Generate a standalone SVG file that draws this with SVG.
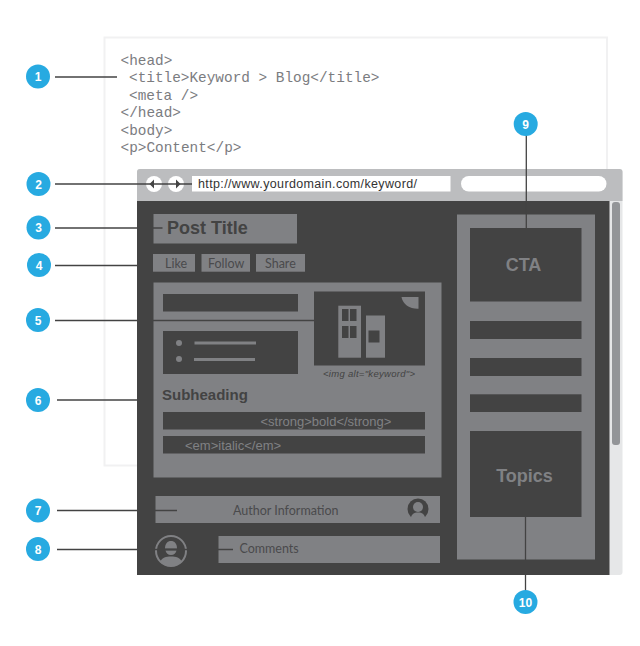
<svg xmlns="http://www.w3.org/2000/svg" width="640" height="646" viewBox="0 0 640 646">
<style>
.d{fill:#434343}.g{fill:#808184}
.badge circle{fill:#27aae1}
.badge text{fill:#fff;font:bold 12px "Liberation Sans",Arial,sans-serif;text-anchor:middle}
.code{fill:#7b7c7f;font:14.4px "Liberation Mono","Courier New",monospace}
.sans{font-family:Lato,"Open Sans",sans-serif;font-size:12.5px;fill:#4a4a4c}
.lib{font-family:"Liberation Sans",Arial,sans-serif}
.tag{font:13px "Liberation Sans",Arial,sans-serif;fill:#808184}
#connectors line{stroke:#434343;stroke-width:1.3;fill:none}
</style>
<rect width="640" height="646" fill="#fff"/>
<g id="code-doc">
<rect x="104.500" y="37.500" width="502.500" height="428" fill="#fff" stroke="#f1f1f2" stroke-width="2"/>
<text class="code" x="120.500" y="65">&lt;head&gt;</text>
<text class="code" x="129" y="82.400">&lt;title&gt;Keyword &gt; Blog&lt;/title&gt;</text>
<text class="code" x="129" y="100">&lt;meta /&gt;</text>
<text class="code" x="120.500" y="117">&lt;/head&gt;</text>
<text class="code" x="120.500" y="134.500">&lt;body&gt;</text>
<text class="code" x="120.500" y="152">&lt;p&gt;Content&lt;/p&gt;</text>
</g>
<g id="browser">
<path d="M137 575V172a3 3 0 0 1 3-3H619.500a3 3 0 0 1 3 3V572a3 3 0 0 1-3 3Z" fill="#e6e7e8"/>
<path d="M137 201V172a3 3 0 0 1 3-3H619.500a3 3 0 0 1 3 3V201Z" fill="#bcbdbf"/>
<rect class="d" x="137" y="201" width="472.500" height="374"/>
<rect x="612" y="202" width="8" height="243" rx="3" fill="#939598"/>
<circle cx="154" cy="184" r="8" fill="#fff"/>
<circle cx="176" cy="184" r="8" fill="#fff"/>
<path d="M149.500 184l4.500-4.500v9Z" fill="#434343"/>
<path d="M180.500 184l-4.500-4.500v9Z" fill="#434343"/>
<rect x="192" y="176" width="258.500" height="15.500" fill="#fff"/>
<text class="lib" x="198" y="188" font-size="12.500" fill="#333" textLength="219">http://www.yourdomain.com/keyword/</text>
<rect x="461" y="176" width="145.500" height="15.500" rx="7.750" fill="#fff"/>
</g>
<g id="post-title">
<rect class="g" x="153.500" y="214" width="143.500" height="29.500"/>
<text class="lib" x="167" y="234" font-size="18" font-weight="bold" fill="#434343">Post Title</text>
</g>
<g id="social-buttons">
<rect class="g" x="153" y="254" width="42" height="17.700"/>
<rect class="g" x="201.500" y="254" width="48.500" height="17.700"/>
<rect class="g" x="256" y="254" width="49" height="17.700"/>
<text class="sans" x="165" y="268">Like</text>
<text class="sans" x="208" y="268">Follow</text>
<text class="sans" x="265" y="268">Share</text>
</g>
<g id="content">
<rect class="g" x="153.500" y="282.500" width="288" height="195"/>
<rect class="d" x="163" y="294" width="135" height="17.500"/>
<rect class="d" x="163" y="331" width="135" height="43"/>
<circle class="g" cx="179" cy="343" r="3"/>
<circle class="g" cx="179" cy="359" r="3"/>
<rect class="g" x="194.500" y="341.500" width="61.500" height="3"/>
<rect class="g" x="194" y="358" width="61" height="3"/>
<text class="lib" x="162" y="400" font-size="15" font-weight="bold" fill="#434343">Subheading</text>
<rect class="d" x="163" y="412" width="262" height="17.500"/>
<rect class="d" x="163" y="436" width="262" height="17.500"/>
<text class="tag" x="260.500" y="426">&lt;strong&gt;bold&lt;/strong&gt;</text>
<text class="tag" x="185" y="450">&lt;em&gt;italic&lt;/em&gt;</text>
</g>
<g id="image">
<rect class="d" x="314" y="291.500" width="111" height="74"/>
<rect class="g" x="338.300" y="305.700" width="22.700" height="52"/>
<rect class="d" x="342" y="309" width="6.500" height="12"/>
<rect class="d" x="350" y="309" width="6.500" height="12"/>
<rect class="d" x="342" y="326" width="6.500" height="12"/>
<rect class="d" x="350" y="326" width="6.500" height="12"/>
<rect class="g" x="366" y="315.500" width="19" height="42.200"/>
<rect class="d" x="368.500" y="330.500" width="11" height="12"/>
<path class="g" d="M401.500 297H418.500V308.700C410 309 403 305 401.500 297Z"/>
<text class="lib" x="323" y="377" font-size="9.500" font-style="italic" fill="#434343" textLength="92">&lt;img alt="keyword"&gt;</text>
</g>
<g id="sidebar">
<rect class="g" x="457" y="214.500" width="138" height="345"/>
<rect class="d" x="470" y="228" width="111.500" height="73.500"/>
<rect class="d" x="470" y="321" width="111.500" height="18"/>
<rect class="d" x="470" y="358" width="111.500" height="18"/>
<rect class="d" x="470" y="394.300" width="111.500" height="17.700"/>
<rect class="d" x="470" y="431" width="111.500" height="86"/>
<text class="lib" x="523.500" y="271" font-size="18" font-weight="bold" fill="#808184" text-anchor="middle">CTA</text>
<text class="lib" x="524.500" y="482" font-size="18" font-weight="bold" fill="#808184" text-anchor="middle">Topics</text>
</g>
<g id="author">
<rect class="g" x="155.500" y="496" width="284.500" height="27"/>
<text class="sans" x="233" y="514.500">Author Information</text>
<circle class="d" cx="418" cy="509" r="10.500"/>
<circle class="g" cx="418" cy="507" r="5"/>
<path class="g" d="M410.500 520C411 514 414 512.500 418 512.500S425 514 425.500 520Z"/>
</g>
<g id="comments">
<circle cx="171" cy="551" r="15" fill="none" stroke="#808184" stroke-width="2"/>
<path class="g" d="M165 548.500C165 543.500 167.500 541 171 541S177 543.500 177 548.500Z"/>
<path class="g" d="M165.500 550.500H176.500C176 553 174 555 171 555S166 553 165.500 550.500Z"/>
<path class="g" d="M160 562C162 557.500 166 556.500 171 556.500S180 557.500 182 562C179 564.500 175 566 171 566S163 564.500 160 562Z"/>
<rect class="g" x="218.500" y="536" width="221.500" height="27"/>
<text class="sans" x="239.500" y="553">Comments</text>
</g>
<g id="connectors">
<line x1="55" y1="77" x2="117" y2="77"/>
<line x1="55" y1="184" x2="192" y2="184"/>
<line x1="55" y1="228" x2="162.500" y2="228"/>
<line x1="55" y1="265.500" x2="137" y2="265.500"/>
<line x1="55" y1="320.500" x2="314" y2="320.500"/>
<line x1="57" y1="400" x2="137" y2="400"/>
<line x1="57" y1="510.500" x2="177" y2="510.500"/>
<line x1="57" y1="549.500" x2="233" y2="549.500"/>
<line x1="526.300" y1="135" x2="526.300" y2="228"/>
<line x1="525.500" y1="517" x2="525.500" y2="591"/>
</g>
<g id="badge-1" class="badge"><circle cx="38" cy="76.500" r="12"/><text x="38" y="81">1</text></g>
<g id="badge-2" class="badge"><circle cx="38.500" cy="184" r="12"/><text x="38.500" y="188.500">2</text></g>
<g id="badge-3" class="badge"><circle cx="38.500" cy="227.500" r="12"/><text x="38.500" y="232">3</text></g>
<g id="badge-4" class="badge"><circle cx="39" cy="265" r="12"/><text x="39" y="269.500">4</text></g>
<g id="badge-5" class="badge"><circle cx="38" cy="320" r="12"/><text x="38" y="324.500">5</text></g>
<g id="badge-6" class="badge"><circle cx="38" cy="400" r="12"/><text x="38" y="404.500">6</text></g>
<g id="badge-7" class="badge"><circle cx="38" cy="510.500" r="12"/><text x="38" y="515">7</text></g>
<g id="badge-8" class="badge"><circle cx="38" cy="549" r="12"/><text x="38" y="553.500">8</text></g>
<g id="badge-9" class="badge"><circle cx="525.700" cy="124" r="12"/><text x="525.700" y="128.500">9</text></g>
<g id="badge-10" class="badge"><circle cx="525.500" cy="602" r="12"/><text x="525.500" y="606.500">10</text></g>
</svg>
